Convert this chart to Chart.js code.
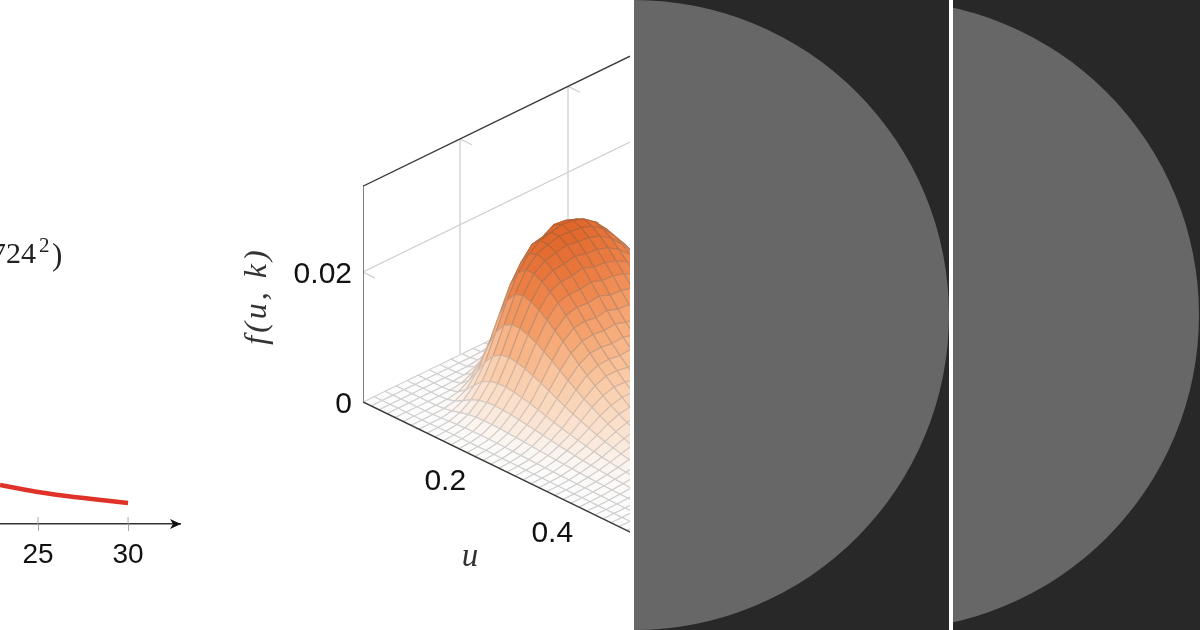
<!DOCTYPE html>
<html><head><meta charset="utf-8">
<script src="https://cdn.jsdelivr.net/npm/chart.js@4"></script>
<style>
html,body{margin:0;padding:0;background:#fff;width:1200px;height:630px;overflow:hidden}
.p{position:absolute;top:0;height:630px;overflow:hidden}
.p canvas{display:block;filter:blur(.4px)}
.d{position:absolute;top:0;width:630px;height:630px}
</style></head><body>
<div class="p" style="left:0;width:181px"><canvas id="lineChart"></canvas></div>
<div class="p" style="left:181px;width:449px"><canvas id="surfaceChart"></canvas></div>
<div class="p" style="left:634px;width:315px;background:#282828"><div class="d" style="left:-315px"><canvas id="discA"></canvas></div></div>
<div class="p" style="left:953px;width:247px;background:#282828"><div class="d" style="left:-384px"><canvas id="discB"></canvas></div></div>
<script>
// ---- left panel: red curve
const lineX = [22.89, 24, 25, 26, 27, 28, 29, 30];
const lineY = [39, 35.2, 32, 29.3, 27, 25, 23, 21];
const lineXTicks = [25, 30];

// ---- middle panel: surface
const uTicks = [0.2, 0.4];
const kTicks = [1, 2];
const zTicks = [0, 0.02];
const zTickLabels = ['0', '0.02'];
const zTop = 0.0332;
const peakF = 0.0208;
// profile along u, one sample per half rib
const uProfile = [0,0,0,0,0,0,0,0,0,0,.005,.015,.04,.09,.17,.28,.41,.55,.68,.79,.87,.93,.97,.99,1,.99,.975,.955,.93,.9,.87,.84,.8,.765,.73,.69,.65,.61,.575,.54,.505,.47,.44,.41,.38,.35,.32,.295,.27,.245,.225,.205,.185,.165,.15,.135,.12,.105,.09,.08,.07,.06,.05,.04,.03,.025,.02,.015,.01,.005,0];
// profile along k, one sample per row
const kProfile = [0,.005,.02,.06,.13,.23,.38,.56,.73,.86,.93,.97,.99,1,.99,.96,.9,.81,.7,.57,.44,.31,.2,.11,.05];
// how far the ridge has moved towards small u in each row
const ridgeShift = [0,0,0,1,2,3,4,5,6,7,8,9,9,10,10,10,10,10,10,10,10,10,10,10,10];

// ---- right panels: one full slice each
const discValue = [1];

// ---- projection of (rib step, row step, f) on to the flat plot
const RIB = 8, ROW = 11, SLOPE = .487, PXF = 6500;
const sOfU = u => (u - 0.05) * 535;
const tOfK = k => 97 + 108 * (k - 1);
const proj = (s, t, z) => ({x: s + t, y: -SLOPE * (s - t) / PXF + z});
const stops = [[0,252,252,252],[.1,250,232,218],[.3,249,205,170],[.5,246,172,122],[.75,238,130,72],[1,224,100,40]];
function mix(f,table){
  for(let i=1;i<table.length;i++){ if(f<=table[i][0]){ const a=table[i-1],b=table[i],w=(f-a[0])/(b[0]-a[0]);
    return `rgb(${[1,2,3].map(c=>Math.round(a[c]+(b[c]-a[c])*w)).join(',')})`; } }
  const l=table[table.length-1]; return `rgb(${l[1]},${l[2]},${l[3]})`;
}
const edges = [[0,208,208,208],[.15,215,195,182],[.5,200,150,118],[1,180,95,50]];
const height = (i,j) => peakF * (uProfile[i*2 + ridgeShift[j]] ?? 0) * kProfile[j];
const seg = (pts,color,w) => ({data:pts,showLine:true,fill:false,borderColor:color,borderWidth:w,pointRadius:0,tension:0});

const back = [], front = [];
// walls
kTicks.forEach(k=>{ const t=tOfK(k);
  back.push(seg([proj(0,t,0),proj(0,t,zTop)],'#cfcfcf',1.3));
  back.push(seg([proj(0,t,zTop),proj(12,t,zTop)],'#cfcfcf',1.2));
});
back.push(seg([proj(0,0,.02),proj(0,267,.02)],'#d0d0d0',1.3));
back.push(seg([proj(0,0,.02),proj(12,0,.02)],'#cfcfcf',1.2));
back.push(seg([proj(0,0,0),proj(0,0,zTop)],'#555',1.5));
back.push(seg([proj(0,0,zTop),proj(0,267,zTop)],'#3a3a3a',1.4));
// mesh: farthest row first, low u first
for(let j=kProfile.length-2;j>=0;j--){
  for(let i=0;i*2<uProfile.length-2;i++){
    if(i*RIB+j*ROW>275) continue;
    const a=height(i,j),b=height(i+1,j),c=height(i+1,j+1),d=height(i,j+1);
    const P=[proj(i*RIB,j*ROW,a),proj((i+1)*RIB,j*ROW,b),proj((i+1)*RIB,(j+1)*ROW,c),proj(i*RIB,(j+1)*ROW,d),proj(i*RIB,j*ROW,a)];
    const f=(a+b+c+d)/4/peakF;
    back.push({data:P,showLine:true,fill:'shape',backgroundColor:mix(f,stops),
      borderColor:mix(f,edges),borderWidth:1.1,pointRadius:0,tension:0});
  }
}
front.push(seg([proj(0,0,0),proj(274,0,0)],'#3a3a3a',1.4));
// Chart.js paints the last dataset first
const surfaceSets = back.concat(front).reverse();

const pick = (arr)=>(s)=>{ s.ticks = arr.map(v=>({value:v})); };

// ---- left chart
new Chart(document.getElementById('lineChart'),{
  type:'scatter',
  data:{datasets:[{data:lineX.map((x,i)=>({x,y:lineY[i]})),showLine:true,borderColor:'#df3228',borderWidth:4.5,pointRadius:0,cubicInterpolationMode:'monotone',borderCapStyle:'butt'}]},
  options:{responsive:true,maintainAspectRatio:false,animation:false,layout:{padding:0},
    plugins:{legend:{display:false},tooltip:{enabled:false}},
    scales:{
      x:{type:'linear',min:22.89,max:32.94,afterBuildTicks:pick(lineXTicks),afterFit:s=>{s.height=106;},
        border:{color:'#333',width:1.5},
        grid:{drawOnChartArea:false,drawTicks:true,tickLength:7,color:'#a8a8a8'},
        ticks:{color:'#111',padding:7,autoSkip:false,maxRotation:0,font:{family:'"Liberation Sans"',size:28}}},
      y:{type:'linear',min:0,max:524,display:false}
    }},
  plugins:[{id:'extras',afterDraw(c){
    const g=c.ctx,a=c.chartArea,xs=c.scales.x;
    g.save();
    g.strokeStyle='#a8a8a8';g.lineWidth=1;
    lineXTicks.forEach(v=>{const p=xs.getPixelForValue(v);g.beginPath();g.moveTo(p,a.bottom-7);g.lineTo(p,a.bottom);g.stroke();});
    g.fillStyle='#111';g.beginPath();g.moveTo(181,a.bottom);g.lineTo(170,a.bottom-5);g.lineTo(173,a.bottom);g.lineTo(170,a.bottom+5);g.closePath();g.fill();
    g.fillStyle='#222';g.textBaseline='alphabetic';
    g.textAlign='right';g.font='30px "Liberation Serif"';g.fillText('724',36,263);
    g.textAlign='left';g.font='21px "Liberation Serif"';g.fillText('2',39,252);
    g.font='31px "Liberation Serif"';g.fillText(')',52,265);
    g.restore();
  }}]
});

// ---- middle chart
new Chart(document.getElementById('surfaceChart'),{
  type:'scatter',
  data:{datasets:surfaceSets},
  options:{responsive:true,maintainAspectRatio:false,animation:false,layout:{padding:{left:182}},
    plugins:{legend:{display:false},tooltip:{enabled:false}},
    scales:{
      x:{type:'linear',min:0,max:267,display:false},
      y:{type:'linear',min:-228/PXF,max:402/PXF,display:false}
    }},
  plugins:[{id:'labels',afterDraw(c){
    const g=c.ctx,xs=c.scales.x,ys=c.scales.y;
    g.save();
    g.fillStyle='#111';g.textBaseline='middle';
    g.font='30px "Liberation Sans"';g.textAlign='right';
    zTicks.forEach((z,i)=>g.fillText(zTickLabels[i],xs.getPixelForValue(0)-11,ys.getPixelForValue(z)+2.5));
    g.textAlign='center';
    uTicks.forEach(u=>{const p=proj(sOfU(u),0,0);
      g.fillText(String(u),xs.getPixelForValue(p.x)+2,ys.getPixelForValue(p.y)+41);});
    g.fillStyle='#333';g.font='italic 33px "Liberation Serif"';
    g.fillText('u',470-181,557);
    g.translate(258-181,296);g.rotate(-Math.PI/2);
    g.letterSpacing='3px';g.font='italic 32px "Liberation Serif"';
    g.fillText('f(u, k)',0,0);
    g.restore();
  }}]
});

// ---- the two grey discs
function disc(id){
  new Chart(document.getElementById(id),{
    type:'pie',
    data:{labels:['disc'],datasets:[{data:discValue,backgroundColor:'#676767',borderWidth:0,hoverOffset:0}]},
    options:{responsive:true,maintainAspectRatio:false,animation:false,layout:{padding:0},
      plugins:{legend:{display:false},tooltip:{enabled:false}}}
  });
}
disc('discA');
disc('discB');
</script>
</body></html>
